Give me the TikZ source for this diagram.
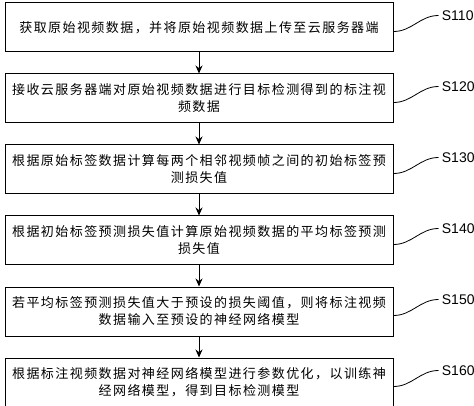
\documentclass[tikz,border=0pt]{standalone}
\usepackage{fontspec}
\setmainfont{Liberation Sans}
\newfontfamily\cjk[LetterSpace=11]{Noto Sans CJK SC}
\usetikzlibrary{positioning,arrows.meta}

\tikzstyle{stepbox}=[draw, line width=1pt, minimum width=388pt, minimum height=49pt,
                     text width=384pt, align=center, inner sep=0pt,
                     font=\cjk\fontsize{13}{17}\selectfont]
\tikzstyle{steplabel}=[anchor=west, inner sep=3pt, font=\fontsize{14}{14}\selectfont]

\begin{document}
\begin{tikzpicture}[line width=0.8pt, node distance=21pt,
                    >={Stealth[length=8pt,width=7pt]}]
    \useasboundingbox (0,0) rectangle (474pt,-406pt);
    % the six steps, one below the other
    \node[stepbox] (s110) at (199pt,-27.5pt) {获取原始视频数据，并将原始视频数据上传至云服务器端};
    \node[stepbox, below=of s110] (s120) {接收云服务器端对原始视频数据进行目标检测得到的标注视\\频数据};
    \node[stepbox, below=of s120] (s130) {根据原始标签数据计算每两个相邻视频帧之间的初始标签预\\测损失值};
    \node[stepbox, below=of s130] (s140) {根据初始标签预测损失值计算原始视频数据的平均标签预测\\损失值};
    \node[stepbox, below=of s140] (s150) {若平均标签预测损失值大于预设的损失阈值，则将标注视频\\数据输入至预设的神经网络模型};
    \node[stepbox, below=of s150] (s160) {根据标注视频数据对神经网络模型进行参数优化，以训练神\\经网络模型，得到目标检测模型};
    % step numbers with their wavy leaders
    \foreach \n in {110,120,...,160}
    {
        \node[steplabel] (l\n) at ([xshift=45pt,yshift=-13pt]s\n.north east) {S\n};
        \draw ([yshift=-4pt]s\n.east) to[out=0,in=180] (l\n.west);
    }
    \foreach \a/\b in {110/120,120/130,130/140,140/150,150/160}
        \draw[->] (s\a) -- (s\b);
\end{tikzpicture}
\end{document}
